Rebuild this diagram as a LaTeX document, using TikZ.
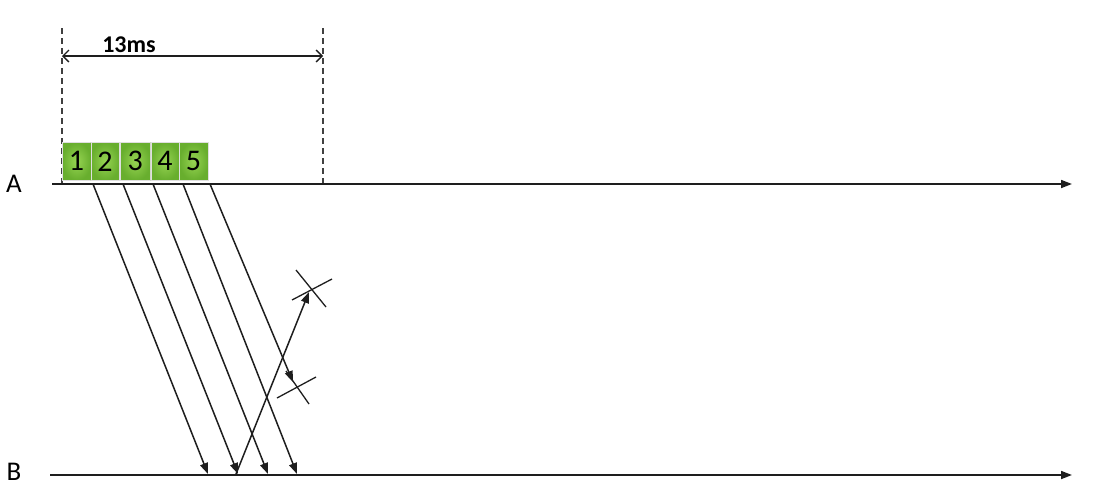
\documentclass[tikz,border=0pt]{standalone}
\usepackage{fontspec}
\setmainfont{Carlito}
\usetikzlibrary{arrows.meta}
\definecolor{gin}{RGB}{150,212,82}
\definecolor{gout}{RGB}{104,174,46}
\definecolor{ln}{RGB}{30,30,30}
\begin{document}
\begin{tikzpicture}[x=1pt,y=-1pt,
  axis/.style={draw=ln,line width=1.7pt,-{Triangle[length=11pt,width=8pt]}},
  msg/.style={draw=ln,line width=1.5pt,-{Triangle[length=11pt,width=8pt]}},
  guide/.style={draw=ln!85,line width=1.2pt,dash pattern=on 6pt off 4pt},
  dim/.style={draw=ln,line width=1.4pt,{Straight Barb[length=6pt,width=12pt]}-{Straight Barb[length=6pt,width=12pt]}},
  crossln/.style={draw=ln,line width=1.3pt},
  pkt/.style={minimum width=28.5pt,minimum height=38pt,inner sep=0pt,anchor=north west,
    shading=radial,inner color=gin,outer color=gout,draw=white!75!gray,line width=0.6pt,
    font=\fontsize{30}{32}\selectfont},
  lbl/.style={font=\fontsize{27}{30}\selectfont}]
\useasboundingbox (0,0) rectangle (1116,501);
% labels
\node[lbl] (la) at (14,184) {A};
\node[lbl] (lb) at (14,472) {B};
% time axes
\coordinate (a0) at (52,184);
\coordinate (a1) at (1072,184);
\coordinate (b0) at (50,475);
\coordinate (b1) at (1072,475);
\draw[axis] (a0) -- (a1);
\draw[axis] (b0) -- (b1);
% guides
\coordinate (g1t) at (62,28);
\coordinate (g1b) at (62,183);
\coordinate (g2t) at (323,28);
\coordinate (g2b) at (323,183);
\draw[guide] (g1t) -- (g1b);
\draw[guide] (g2t) -- (g2b);
\coordinate (d1) at (62,56);
\coordinate (d2) at (323,56);
\draw[dim] (d1) -- (d2);
\node[font=\fontsize{24}{26}\selectfont\bfseries] (ms) at (129,45) {13ms};
% packets
\node[pkt] (p1) at (62,142) {1};
\node[pkt] (p2) at (90.5,142) {2};
\node[pkt,minimum width=30pt] (p3) at (120,142) {3};
\node[pkt] (p4) at (150.5,142) {4};
\node[pkt] (p5) at (179,142) {5};
% messages
\coordinate (s1) at (93,184);  \coordinate (e1) at (208,474);
\coordinate (s2) at (123,184); \coordinate (e2) at (238,474);
\coordinate (s3) at (153,184); \coordinate (e3) at (268,474);
\coordinate (s4) at (183,184); \coordinate (e4) at (297,474);
\coordinate (s5) at (210,184); \coordinate (e5) at (293,382);
\draw[msg] (s1) -- (e1);
\draw[msg] (s2) -- (e2);
\draw[msg] (s3) -- (e3);
\draw[msg] (s4) -- (e4);
\draw[msg] (s5) -- (e5);
\coordinate (r0) at (236,474); \coordinate (r1) at (309,292);
\draw[msg] (r0) -- (r1);
% crosses
\coordinate (x1a) at (277,398); \coordinate (x1b) at (316,377);
\coordinate (x1c) at (286,371); \coordinate (x1d) at (309,404);
\draw[crossln] (x1a) -- (x1b);
\draw[crossln] (x1c) -- (x1d);
\coordinate (x2a) at (292,300); \coordinate (x2b) at (332,279);
\coordinate (x2c) at (296,270); \coordinate (x2d) at (326,307);
\draw[crossln] (x2a) -- (x2b);
\draw[crossln] (x2c) -- (x2d);
\end{tikzpicture}
\end{document}
